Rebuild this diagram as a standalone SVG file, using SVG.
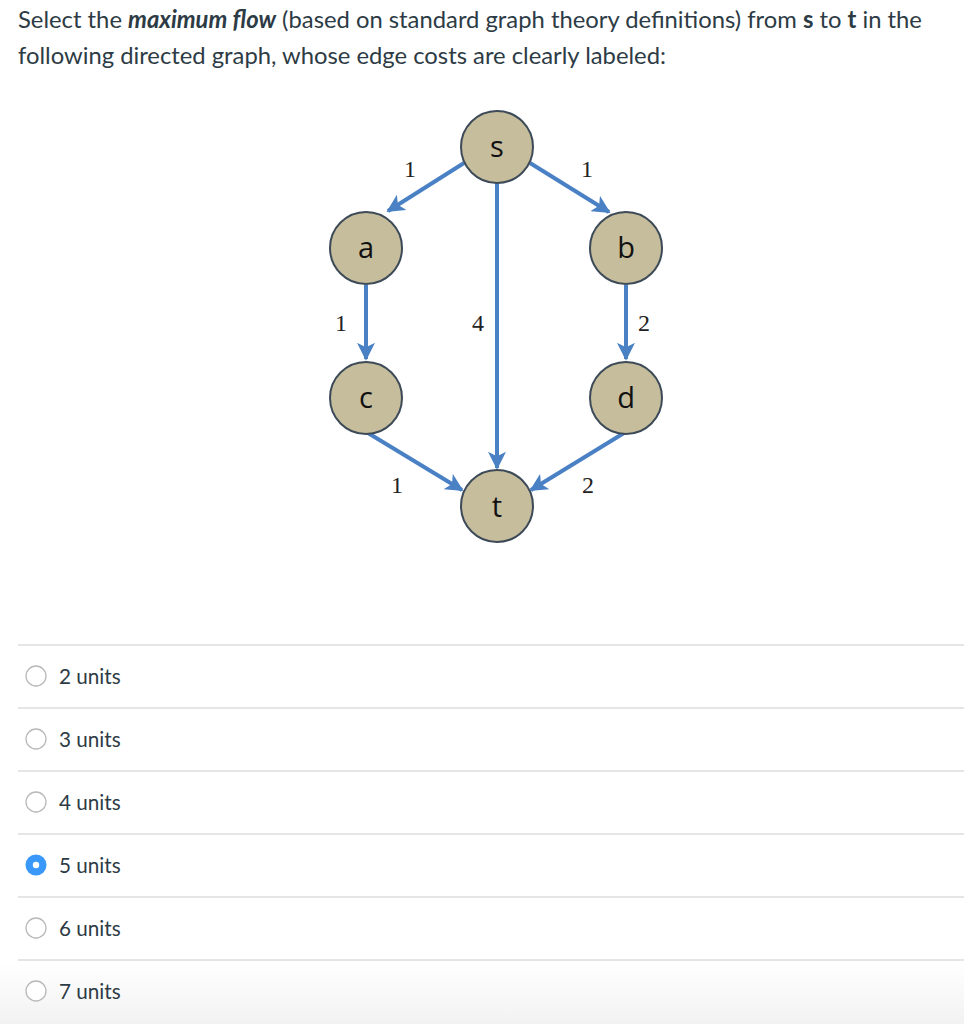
<svg xmlns="http://www.w3.org/2000/svg" width="964" height="1024" viewBox="0 0 964 1024">
<defs>
<style>
.q{font-family:Lato,"Noto Sans",sans-serif;font-size:23.8px;fill:#2d3b45}
.opt{font-family:Lato,"Noto Sans",sans-serif;font-size:20.7px;fill:#2d3b45}
.node circle{fill:#c6bd9c;stroke:#3d4a58;stroke-width:2}
.node text{font-family:"Open Sans","Noto Sans",sans-serif;font-size:29px;fill:#111;text-anchor:middle}
.edge{stroke:#4a80c4;stroke-width:4;fill:none;marker-end:url(#ah)}
.lbl{font-family:"Liberation Serif","Noto Serif",serif;font-size:24px;fill:#222;text-anchor:middle}
.sep{stroke:#dcdcdc;stroke-width:1.5}
.radio{fill:#fff;stroke:#b9b9b9;stroke-width:1.3}
</style>
<marker id="ah" viewBox="0 0 10 10" refX="9" refY="5" markerWidth="4.5" markerHeight="4.5" orient="auto" markerUnits="strokeWidth">
<path d="M0,0 L10,5 L0,10 L2.5,5 Z" fill="#4a80c4"/>
</marker>
<linearGradient id="fade" x1="0" y1="0" x2="0" y2="1">
<stop offset="0" stop-color="#fff"/>
<stop offset="1" stop-color="#f2f2f2"/>
</linearGradient>
</defs>
<rect width="964" height="1024" fill="#fff"/>
<rect x="0" y="962" width="964" height="62" fill="url(#fade)"/>
<g id="question">
<text class="q" x="18" y="28">Select the <tspan font-weight="bold" font-style="italic">maximum flow</tspan> (based on standard graph theory definitions) from <tspan font-weight="bold">s</tspan> to <tspan font-weight="bold">t</tspan> in the</text>
<text class="q" x="18" y="64">following directed graph, whose edge costs are clearly labeled:</text>
</g>
<g id="connectors">
<line class="edge" x1="464" y1="163" x2="388" y2="211"/>
<line class="edge" x1="530" y1="163" x2="609" y2="212"/>
<line class="edge" x1="497" y1="183" x2="497" y2="468"/>
<line class="edge" x1="366" y1="285" x2="366" y2="359"/>
<line class="edge" x1="626" y1="285" x2="626" y2="359"/>
<line class="edge" x1="368" y1="433" x2="462" y2="490"/>
<line class="edge" x1="624" y1="433" x2="531" y2="490"/>
</g>
<g id="edge-labels">
<text class="lbl" x="410" y="177">1</text>
<text class="lbl" x="587" y="177">1</text>
<text class="lbl" x="341" y="331">1</text>
<text class="lbl" x="478" y="331">4</text>
<text class="lbl" x="644" y="331">2</text>
<text class="lbl" x="397" y="493">1</text>
<text class="lbl" x="588" y="493">2</text>
</g>
<g id="node-s" class="node"><circle cx="497" cy="147" r="36"/><text x="497" y="157">s</text></g>
<g id="node-a" class="node"><circle cx="366" cy="248" r="36"/><text x="366" y="258">a</text></g>
<g id="node-b" class="node"><circle cx="626" cy="248" r="36"/><text x="626" y="258">b</text></g>
<g id="node-c" class="node"><circle cx="366" cy="398" r="36"/><text x="366" y="408">c</text></g>
<g id="node-d" class="node"><circle cx="626" cy="398" r="36"/><text x="626" y="408">d</text></g>
<g id="node-t" class="node"><circle cx="497" cy="506" r="36"/><text x="497" y="517">t</text></g>
<g id="options">
<line class="sep" x1="18" y1="645" x2="964" y2="645"/>
<line class="sep" x1="18" y1="708" x2="964" y2="708"/>
<line class="sep" x1="18" y1="771" x2="964" y2="771"/>
<line class="sep" x1="18" y1="834" x2="964" y2="834"/>
<line class="sep" x1="18" y1="897" x2="964" y2="897"/>
<line class="sep" x1="18" y1="960" x2="964" y2="960"/>
<g id="opt-2"><circle class="radio" cx="36" cy="676" r="10"/><text class="opt" x="59" y="684">2 units</text></g>
<g id="opt-3"><circle class="radio" cx="36" cy="739" r="10"/><text class="opt" x="59" y="747">3 units</text></g>
<g id="opt-4"><circle class="radio" cx="36" cy="802" r="10"/><text class="opt" x="59" y="810">4 units</text></g>
<g id="opt-5"><circle cx="36" cy="865" r="10.5" fill="#3a98fb"/><circle cx="36" cy="865" r="3.2" fill="#fff"/><text class="opt" x="59" y="873">5 units</text></g>
<g id="opt-6"><circle class="radio" cx="36" cy="928" r="10"/><text class="opt" x="59" y="936">6 units</text></g>
<g id="opt-7"><circle class="radio" cx="36" cy="991" r="10"/><text class="opt" x="59" y="999">7 units</text></g>
</g>
</svg>
